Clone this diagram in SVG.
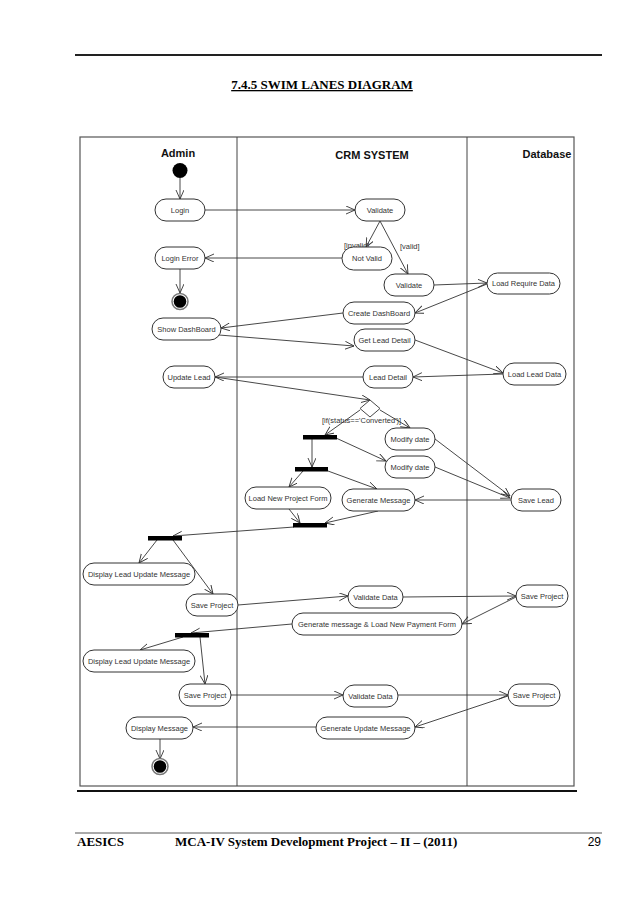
<svg xmlns="http://www.w3.org/2000/svg" width="638" height="903" viewBox="0 0 638 903">
<style>
.node rect{fill:#fff;stroke:#333;stroke-width:1}
.node text{font-family:"Liberation Sans",Arial,sans-serif;font-size:7.5px;fill:#333;text-anchor:middle}
.lane{font-family:"Liberation Sans",Arial,sans-serif;font-size:11px;font-weight:bold;fill:#111;text-anchor:middle}
.conn line{stroke:#333;stroke-width:0.9;marker-end:url(#arr)}
.guard{font-family:"Liberation Sans",Arial,sans-serif;font-size:7.5px;fill:#333}
.bar{fill:#000}
.serif{font-family:"Liberation Serif","Times New Roman",serif;font-weight:bold;font-size:13px;fill:#000}
</style>
<defs>
<marker id="arr" markerUnits="userSpaceOnUse" markerWidth="12" markerHeight="12" refX="9" refY="4" orient="auto">
<path d="M0,0 L9,4 L0,8" fill="none" stroke="#333" stroke-width="0.9"/>
</marker>
</defs>
<rect width="638" height="903" fill="#fff"/>
<!-- page header -->
<line x1="75" y1="55" x2="602" y2="55" stroke="#222" stroke-width="2"/>
<text class="serif" x="322" y="89" text-anchor="middle" text-decoration="underline">7.4.5 SWIM LANES DIAGRAM</text>
<!-- frame and lanes -->
<g id="lanes">
<rect x="80" y="137" width="494" height="649" fill="none" stroke="#555" stroke-width="1.2"/>
<line x1="237" y1="137" x2="237" y2="786" stroke="#444" stroke-width="1"/>
<line x1="467" y1="137" x2="467" y2="786" stroke="#444" stroke-width="1"/>
<line x1="77" y1="791" x2="577" y2="791" stroke="#111" stroke-width="1.8"/>
<text class="lane" x="178" y="157">Admin</text>
<text class="lane" x="372" y="159">CRM SYSTEM</text>
<text class="lane" x="547" y="158">Database</text>
</g>
<!-- connectors -->
<g id="connectors" class="conn">
<line x1="180" y1="178" x2="180" y2="199"/>
<line x1="205" y1="210" x2="355" y2="210"/>
<line x1="380" y1="221" x2="366" y2="247"/>
<line x1="380" y1="221" x2="408" y2="274"/>
<line x1="342" y1="258" x2="205" y2="258"/>
<line x1="180" y1="269" x2="180" y2="293"/>
<line x1="434" y1="285" x2="487" y2="283"/>
<line x1="487" y1="284" x2="415" y2="313"/>
<line x1="343" y1="313" x2="221" y2="328"/>
<line x1="219" y1="335" x2="354" y2="346"/>
<line x1="415" y1="340" x2="503" y2="373"/>
<line x1="503" y1="374" x2="413" y2="377"/>
<line x1="363" y1="377" x2="215" y2="377"/>
<line x1="215" y1="377" x2="370" y2="400"/>
<line x1="360" y1="410" x2="325" y2="435"/>
<line x1="380" y1="410" x2="410" y2="428"/>
<line x1="312" y1="439" x2="312" y2="467"/>
<line x1="336" y1="438" x2="386" y2="461"/>
<line x1="303" y1="471" x2="289" y2="487"/>
<line x1="328" y1="471" x2="377" y2="489"/>
<line x1="435" y1="439" x2="510" y2="496"/>
<line x1="435" y1="467" x2="510" y2="498"/>
<line x1="511" y1="500" x2="415" y2="500"/>
<line x1="289" y1="509" x2="300" y2="523"/>
<line x1="378" y1="511" x2="325" y2="523"/>
<line x1="294" y1="527" x2="173" y2="536"/>
<line x1="157" y1="540" x2="139" y2="563"/>
<line x1="173" y1="540" x2="213" y2="594"/>
<line x1="238" y1="605" x2="348" y2="596"/>
<line x1="403" y1="597" x2="516" y2="596"/>
<line x1="516" y1="597" x2="462" y2="624"/>
<line x1="292" y1="624" x2="191" y2="633"/>
<line x1="183" y1="637" x2="140" y2="650"/>
<line x1="200" y1="637" x2="205" y2="684"/>
<line x1="231" y1="695" x2="343" y2="695"/>
<line x1="398" y1="695" x2="508" y2="695"/>
<line x1="508" y1="696" x2="415" y2="727"/>
<line x1="316" y1="727" x2="193" y2="727"/>
<line x1="160" y1="738" x2="160" y2="759"/>
</g>
<!-- guards -->
<text class="guard" x="344" y="248">[invalid]</text>
<text class="guard" x="400" y="249">[valid]</text>
<text class="guard" x="322" y="423">[if(status=='Converted')]</text>
<!-- nodes -->
<g id="start"><circle cx="180" cy="170.5" r="7.5" fill="#000"/></g>
<g id="login" class="node"><rect x="155" y="199" width="50" height="22" rx="11"/><text x="180" y="212.6">Login</text></g>
<g id="validate1" class="node"><rect x="355" y="199" width="50" height="22" rx="11"/><text x="380" y="212.6">Validate</text></g>
<g id="loginError" class="node"><rect x="155" y="247" width="50" height="22" rx="11"/><text x="180" y="260.6">Login Error</text></g>
<g id="notValid" class="node"><rect x="342" y="247" width="50" height="23" rx="11.5"/><text x="367" y="261">Not Valid</text></g>
<g id="end1"><circle cx="180" cy="301.5" r="8" fill="#fff" stroke="#777" stroke-width="1.5"/><circle cx="180" cy="301.5" r="6.3" fill="#000"/></g>
<g id="validate2" class="node"><rect x="384" y="274" width="50" height="22" rx="11"/><text x="409" y="287.6">Validate</text></g>
<g id="loadRequireData" class="node"><rect x="487" y="273" width="73" height="21" rx="10.5"/><text x="523.5" y="286.1">Load Require Data</text></g>
<g id="createDashBoard" class="node"><rect x="343" y="302" width="72" height="22" rx="11"/><text x="379" y="315.6">Create DashBoard</text></g>
<g id="showDashBoard" class="node"><rect x="152" y="318" width="69" height="22" rx="11"/><text x="186.5" y="331.6">Show DashBoard</text></g>
<g id="getLeadDetail" class="node"><rect x="354" y="329" width="61" height="22" rx="11"/><text x="384.5" y="342.6">Get Lead Detail</text></g>
<g id="loadLeadData" class="node"><rect x="503" y="363" width="63" height="22" rx="11"/><text x="534.5" y="376.6">Load Lead Data</text></g>
<g id="updateLead" class="node"><rect x="163" y="366" width="52" height="22" rx="11"/><text x="189" y="379.6">Update Lead</text></g>
<g id="leadDetail" class="node"><rect x="363" y="366" width="50" height="22" rx="11"/><text x="388" y="379.6">Lead Detail</text></g>
<g id="decision"><path d="M370,400 L380,408.5 L370,417 L360,408.5 Z" fill="#fff" stroke="#333" stroke-width="0.9"/></g>
<g id="fork1"><rect class="bar" x="303" y="435" width="34" height="4.5"/></g>
<g id="modifyDate1" class="node"><rect x="385" y="428" width="50" height="22" rx="11"/><text x="410" y="441.6">Modify date</text></g>
<g id="fork2"><rect class="bar" x="295" y="467" width="33" height="4.5"/></g>
<g id="modifyDate2" class="node"><rect x="385" y="456" width="50" height="22" rx="11"/><text x="410" y="469.6">Modify date</text></g>
<g id="loadNewProjectForm" class="node"><rect x="245" y="487" width="86" height="22" rx="11"/><text x="288" y="500.6">Load New Project Form</text></g>
<g id="generateMessage" class="node"><rect x="342" y="489" width="73" height="22" rx="11"/><text x="378.5" y="502.6">Generate Message</text></g>
<g id="saveLead" class="node"><rect x="511" y="489" width="50" height="22" rx="11"/><text x="536" y="502.6">Save Lead</text></g>
<g id="join1"><rect class="bar" x="293" y="523" width="34" height="4.5"/></g>
<g id="fork3"><rect class="bar" x="148" y="536" width="34" height="4.5"/></g>
<g id="displayLeadUpdate1" class="node"><rect x="83" y="563" width="112" height="22" rx="11"/><text x="139" y="576.6">Display Lead Update Message</text></g>
<g id="saveProject1" class="node"><rect x="186" y="594" width="52" height="22" rx="11"/><text x="212" y="607.6">Save Project</text></g>
<g id="validateData1" class="node"><rect x="348" y="586" width="55" height="22" rx="11"/><text x="375.5" y="599.6">Validate Data</text></g>
<g id="saveProjectDb1" class="node"><rect x="516" y="585" width="52" height="22" rx="11"/><text x="542" y="598.6">Save Project</text></g>
<g id="genMsgLoadPayment" class="node"><rect x="292" y="613" width="170" height="22" rx="11"/><text x="377" y="626.6">Generate message &amp; Load New Payment Form</text></g>
<g id="fork4"><rect class="bar" x="175" y="633" width="34" height="4.5"/></g>
<g id="displayLeadUpdate2" class="node"><rect x="83" y="650" width="112" height="22" rx="11"/><text x="139" y="663.6">Display Lead Update Message</text></g>
<g id="saveProject2" class="node"><rect x="179" y="684" width="52" height="22" rx="11"/><text x="205" y="697.6">Save Project</text></g>
<g id="validateData2" class="node"><rect x="343" y="685" width="55" height="22" rx="11"/><text x="370.5" y="698.6">Validate Data</text></g>
<g id="saveProjectDb2" class="node"><rect x="508" y="684" width="52" height="22" rx="11"/><text x="534" y="697.6">Save Project</text></g>
<g id="generateUpdateMessage" class="node"><rect x="316" y="717" width="99" height="22" rx="11"/><text x="365.5" y="730.6">Generate Update Message</text></g>
<g id="displayMessage" class="node"><rect x="126" y="717" width="67" height="22" rx="11"/><text x="159.5" y="730.6">Display Message</text></g>
<g id="end2"><circle cx="160" cy="766.5" r="8" fill="#fff" stroke="#777" stroke-width="1.5"/><circle cx="160" cy="766.5" r="6.3" fill="#000"/></g>
<!-- footer -->
<line x1="75" y1="833" x2="602" y2="833" stroke="#555" stroke-width="1"/>
<text class="serif" x="77" y="846">AESICS</text>
<text class="serif" x="175" y="846">MCA-IV System Development Project – II – (2011)</text>
<text x="601" y="846" text-anchor="end" font-family="Liberation Sans,Arial,sans-serif" font-size="12" fill="#000">29</text>
</svg>
